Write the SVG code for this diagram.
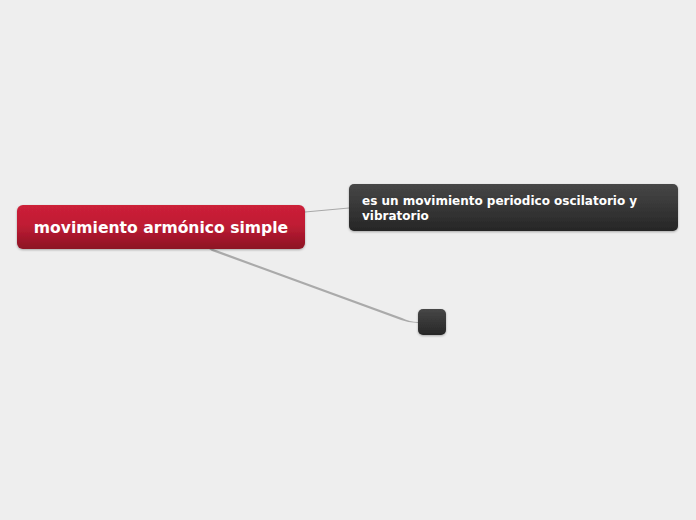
<svg xmlns="http://www.w3.org/2000/svg" width="696" height="520" viewBox="0 0 696 520">
<defs>
<linearGradient id="red" x1="0" y1="0" x2="0" y2="1">
<stop offset="0" stop-color="#cc2038"/>
<stop offset="0.45" stop-color="#c01d34"/>
<stop offset="1" stop-color="#8c1224"/>
</linearGradient>
<linearGradient id="dark" x1="0" y1="0" x2="0" y2="1">
<stop offset="0" stop-color="#474747"/>
<stop offset="1" stop-color="#262626"/>
</linearGradient>
<filter id="sh" x="-10%" y="-20%" width="120%" height="150%">
<feDropShadow dx="0" dy="1" stdDeviation="1" flood-color="#000" flood-opacity="0.3"/>
</filter>
</defs>
<style>
.t{font-family:"DejaVu Sans",sans-serif;font-weight:bold;fill:#ffffff}
.c{fill:none;stroke:#a8a8a8}
</style>
<rect width="696" height="520" fill="#eeeeee"/>
<g id="connectors">
<path class="c" d="M305 212 L349 208" stroke-width="1"/>
<path d="M205 246 L402 318 Q410 322 418 322 L418 323 Q409 323 401 320 L212 251 Z" fill="#aaaaaa"/>
</g>
<g id="node-main">
<rect x="17" y="205" width="288" height="44" rx="6" fill="url(#red)" filter="url(#sh)"/>
<text class="t" x="161" y="233" font-size="15.6" text-anchor="middle">movimiento armónico simple</text>
</g>
<g id="node-desc">
<rect x="349" y="184" width="329" height="47" rx="5" fill="url(#dark)" filter="url(#sh)"/>
<text class="t" font-size="12"><tspan x="362" y="205">es un movimiento periodico oscilatorio y</tspan><tspan x="362" y="220">vibratorio</tspan></text>
</g>
<g id="node-empty">
<rect x="418" y="309" width="28" height="26" rx="5" fill="url(#dark)" filter="url(#sh)"/>
</g>
</svg>
